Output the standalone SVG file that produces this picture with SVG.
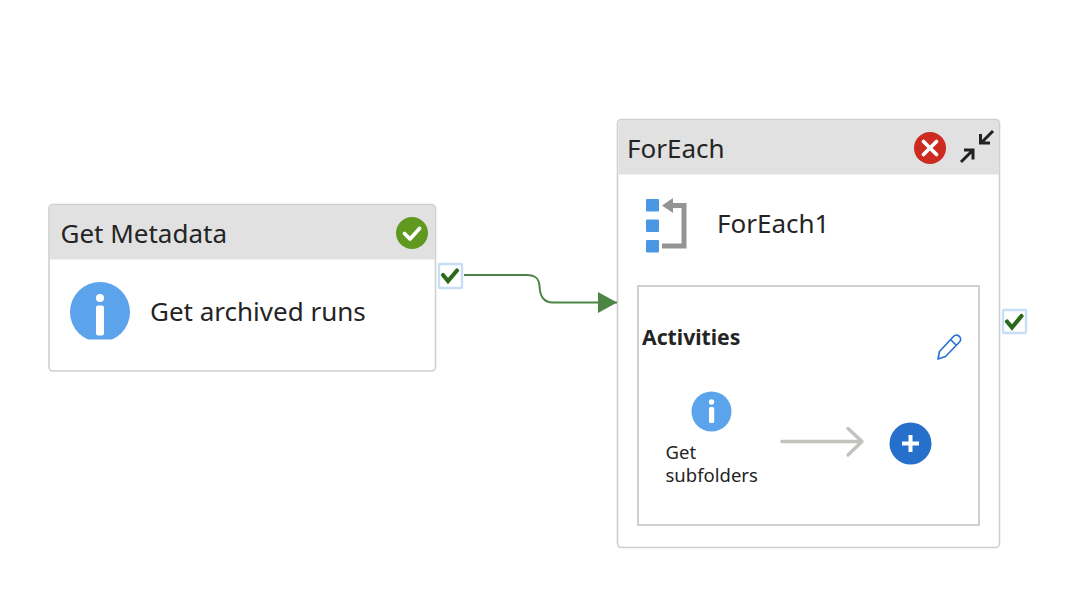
<svg xmlns="http://www.w3.org/2000/svg" width="1076" height="612" viewBox="0 0 1076 612">
<style>
text{font-family:"Noto Sans","Open Sans","Liberation Sans",sans-serif;fill:#242424}
.card{fill:#fff;stroke:#cfcfcf;stroke-width:1.6}
.head{fill:#e1e1e1}
.t{font-size:26px}
.small{font-size:18.500px}
.chk{fill:#fff;stroke:#c6dff6;stroke-width:2.400}
.tick{fill:none;stroke:#2b6a1a;stroke-width:4.200;stroke-linecap:round;stroke-linejoin:miter}
</style>
<defs>
<clipPath id="c1"><rect x="60" y="275" width="80" height="64.500"/></clipPath>
<marker id="ah" markerUnits="userSpaceOnUse" markerWidth="20" markerHeight="22" refX="19" refY="10.500" orient="auto"><path d="M0 0L19 10.500L0 21z" fill="#4c8546"/></marker>
</defs>
<g id="node-get-metadata">
<rect class="card" x="49" y="204.500" width="386.500" height="166.500" rx="4"/>
<path class="head" d="M50 209a4 4 0 0 1 4-4H431a4 4 0 0 1 4 4V259.500H50z"/>
<text class="t" x="60.500" y="242.500">Get Metadata</text>
<circle cx="412" cy="233" r="16" fill="#5f991f"/>
<path d="M404.500 233.500L410 239L419.500 228.500" fill="none" stroke="#fff" stroke-width="3.800" stroke-linecap="round" stroke-linejoin="round"/>
<circle cx="100" cy="312" r="30" fill="#5ba4eb" clip-path="url(#c1)"/>
<circle cx="100" cy="298" r="4" fill="#fff"/>
<rect x="96" y="305.500" width="8" height="30" rx="2" fill="#fff"/>
<text class="t" x="150" y="320.500">Get archived runs</text>
</g>
<g id="status-get-metadata">
<rect class="chk" x="439" y="264" width="23" height="24" rx="1"/>
<path class="tick" d="M443 275L448 281L457 270.500"/>
</g>
<g id="node-foreach">
<rect class="card" x="617.500" y="119.500" width="382" height="428" rx="4"/>
<path class="head" d="M618.500 124a4 4 0 0 1 4-4H995a4 4 0 0 1 4 4V174.500H618.500z"/>
<text class="t" x="627" y="157.500">ForEach</text>
<circle cx="930" cy="148" r="16" fill="#cd2a20"/>
<path d="M923.500 141.500L936.500 154.500M936.500 141.500L923.500 154.500" fill="none" stroke="#fff" stroke-width="3.800" stroke-linecap="round"/>
<path d="M993 131L981 143M980.500 134V143H990M961 162L973 150M964 150H973V159.500" fill="none" stroke="#222" stroke-width="3"/>
<rect x="646" y="199" width="13" height="12.500" rx="1" fill="#4a97e3"/>
<rect x="646" y="219.500" width="13" height="12.500" rx="1" fill="#4a97e3"/>
<rect x="646" y="240" width="13" height="12.500" rx="1" fill="#4a97e3"/>
<path d="M672 205.500H684V246H662" fill="none" stroke="#949494" stroke-width="5"/>
<path d="M662 205.500L673 198V213z" fill="#949494"/>
<text class="t" x="717" y="233">ForEach1</text>
<rect x="638" y="286" width="341" height="239" fill="#fff" stroke="#cfcfcf" stroke-width="2"/>
<text x="642" y="344.500" font-size="21.200" font-weight="700">Activities</text>
<path d="M938 359L939.500 351.500L953.500 336.500C955 335 957.500 335 959.500 336.500C961 338 961 340.500 959.500 342L945.500 356.500zM950.500 339.500L956.500 345.500" fill="none" stroke="#2a73d0" stroke-width="1.700" stroke-linejoin="round"/>
<circle cx="711.500" cy="411.500" r="20" fill="#5ba4eb"/>
<circle cx="711.500" cy="402" r="2.700" fill="#fff"/>
<rect x="709" y="407" width="5.200" height="16" rx="1.500" fill="#fff"/>
<text class="small" x="665.500" y="459">Get</text>
<text class="small" x="665.500" y="482">subfolders</text>
<circle cx="910.500" cy="443.500" r="21" fill="#266fcb"/>
<path d="M902 443.500H919M910.500 435V452" fill="none" stroke="#fff" stroke-width="4"/>
</g>
<g id="status-foreach">
<rect class="chk" x="1003" y="310" width="23" height="23" rx="1"/>
<path class="tick" d="M1007 321.500L1012 327.500L1021.500 316"/>
</g>
<g id="connectors">
<path d="M464 275H527C536 275 539 279 539.500 286C540 296 543 302 553 302.500H617" fill="none" stroke="#4c8546" stroke-width="2" marker-end="url(#ah)"/>
<path d="M782 441.500H861M848 428.500L862 441.500L848 455" fill="none" stroke="#c4c2be" stroke-width="3.500" stroke-linecap="round" stroke-linejoin="round"/>
</g>
</svg>
